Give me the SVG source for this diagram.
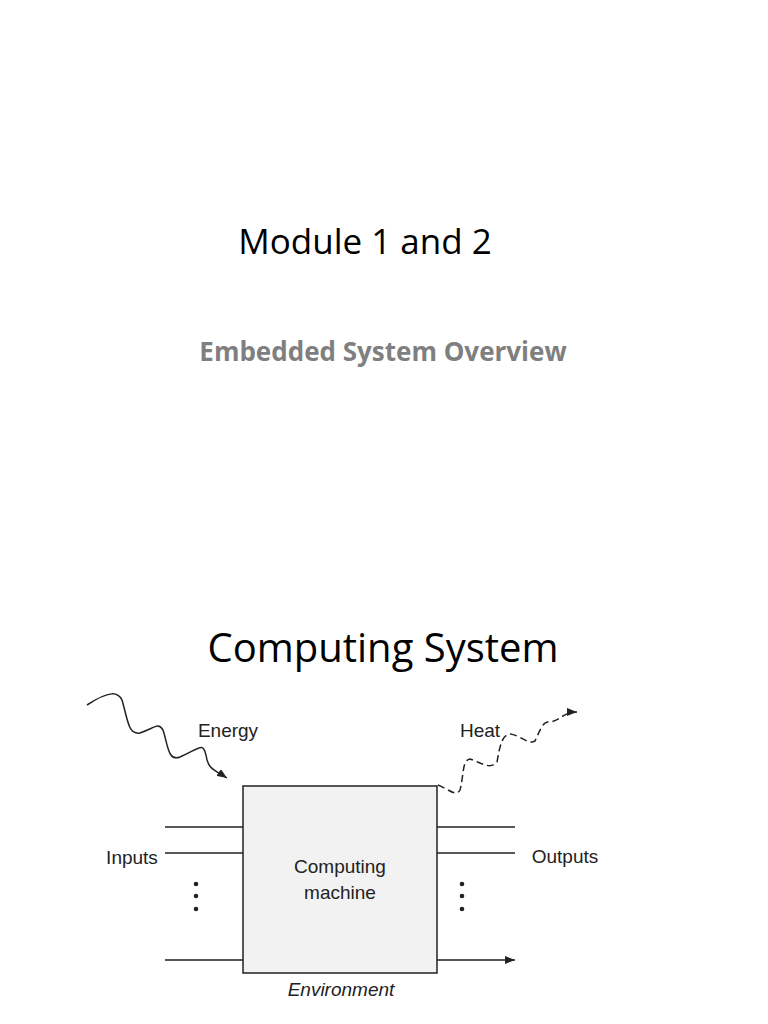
<svg xmlns="http://www.w3.org/2000/svg" width="768" height="1024" viewBox="0 0 768 1024">
<style>
.t{font-family:"Open Sans","Liberation Sans",sans-serif}
.d{font-family:"Liberation Sans Narrow","Liberation Sans",sans-serif;font-size:19px;fill:#222}
.ln{stroke:#222;stroke-width:1.5;fill:none}
</style>
<defs><marker id="a" markerWidth="10" markerHeight="8" refX="10" refY="4" orient="auto" markerUnits="userSpaceOnUse"><path d="M0,0L10,4L0,8Z" fill="#222"/></marker></defs>
<rect width="768" height="1024" fill="#fff"/>
<text class="t" x="365" y="254" font-size="35" text-anchor="middle">Module 1 and 2</text>
<text class="t" x="383" y="361" font-size="26" font-weight="bold" fill="#7f7f7f" text-anchor="middle">Embedded System Overview</text>
<text class="t" x="383" y="662" font-size="40" text-anchor="middle">Computing System</text>
<g id="machine"><rect x="243" y="786" width="194" height="187" fill="#f2f2f2" stroke="#222" stroke-width="1.5"/>
<text class="d" x="340" y="873" text-anchor="middle">Computing</text>
<text class="d" x="340" y="899" text-anchor="middle">machine</text></g>
<g id="labels">
<text class="d" x="132" y="864" text-anchor="middle">Inputs</text>
<text class="d" x="565" y="863" text-anchor="middle">Outputs</text>
<text class="d" x="228" y="737" text-anchor="middle">Energy</text>
<text class="d" x="480" y="737" text-anchor="middle">Heat</text>
<text class="d" x="341" y="996" text-anchor="middle" font-style="italic">Environment</text>
<g fill="#222"><circle cx="196" cy="884" r="2.3"/><circle cx="196" cy="896" r="2.3"/><circle cx="196" cy="909" r="2.3"/>
<circle cx="462" cy="884" r="2.3"/><circle cx="462" cy="896" r="2.3"/><circle cx="462" cy="909" r="2.3"/></g>
</g>
<g id="connectors">
<path class="ln" marker-end="url(#a)" d="M165,827H243M165,853H243M165,960H243M437,827H515M437,853H515M437,960H515"/>
<path class="ln" marker-end="url(#a)" d="M87,705C110,690 118,692 122,700C128,720 128,735 140,733C155,728 158,722 163,730C168,745 168,762 180,757C200,748 203,742 206,755C208,770 215,770 227,778"/>
<path class="ln" stroke-dasharray="7,4" marker-end="url(#a)" d="M438,785C450,790 456,797 460,790C464,775 462,760 470,759C482,763 490,770 497,762C500,745 502,735 510,734C520,735 528,745 535,741C540,730 543,722 548,722C560,722 562,712 577,712"/>
</g>
</svg>
